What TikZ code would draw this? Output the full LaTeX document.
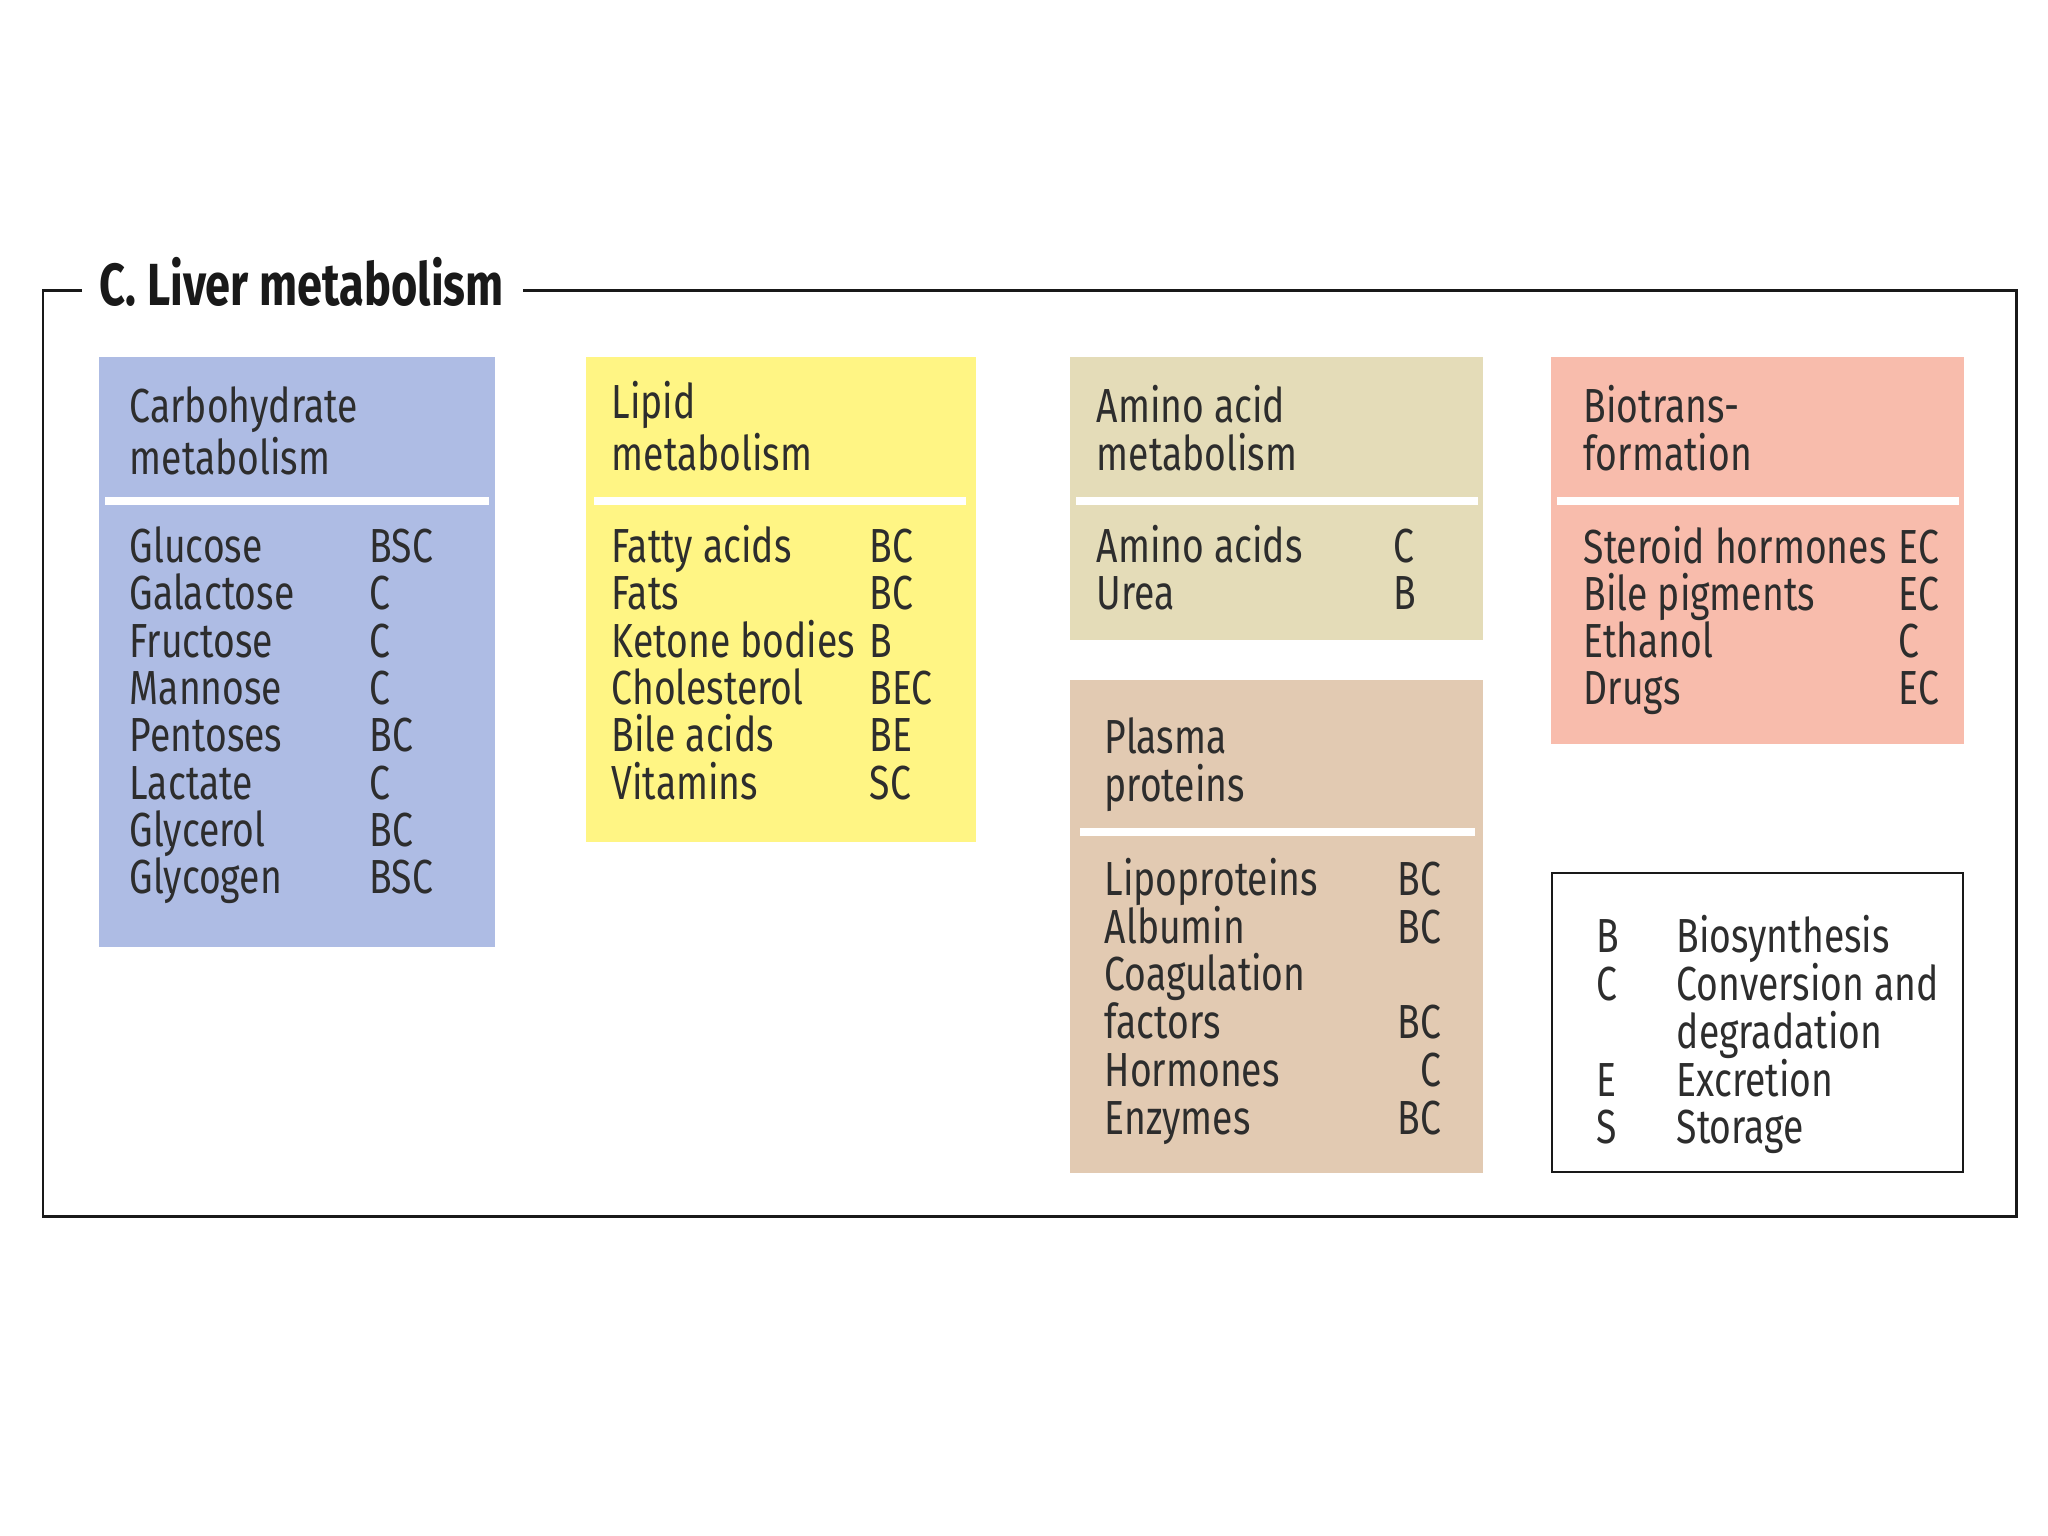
\documentclass[tikz,border=0pt]{standalone}
\usepackage{fontspec}
\setmainfont[FakeStretch=0.78]{Fira Sans}
\newfontfamily\titlefont[FakeStretch=0.76]{Fira Sans}
\definecolor{carbblue}{RGB}{174,188,228}
\definecolor{lipidyellow}{RGB}{255,245,132}
\definecolor{aminosand}{RGB}{228,220,184}
\definecolor{plasmatan}{RGB}{226,202,178}
\definecolor{biopink}{RGB}{248,188,172}
\definecolor{textgray}{RGB}{45,45,45}
\tikzset{
  txt/.style={anchor=base west, inner sep=0pt, text=textgray, font=\fontsize{13.6}{13.4}\selectfont},
  head/.style={txt, align=left},
  sep/.style={white, line width=2pt},
}
\begin{document}
\begin{tikzpicture}[x=0.01cm, y=-0.01cm]
\useasboundingbox (0,0) rectangle (2048,1536);
% frame and title
\node[anchor=base west, inner sep=0pt, text=black!90, font={\titlefont\fontsize{16.9}{18}\selectfont\bfseries}] (title) at (99,305) {C. Liver metabolism};
\draw[line width=0.85pt, black!90] (82,290) -- (43,290) -- (43,1216) -- (2016,1216) -- (2016,290) -- (523,290);
% carbohydrate metabolism
\fill[carbblue] (99,357) rectangle (495,947);
\draw[sep] (105,501) -- (489,501);
\node[head] (carbhead) at (129,474) {Carbohydrate\\metabolism};
\node[txt] (glucose) at (129,562) {Glucose};
\node[txt] (galactose) at (129,609) {Galactose};
\node[txt] (fructose) at (129,657) {Fructose};
\node[txt] (mannose) at (129,704) {Mannose};
\node[txt] (pentoses) at (129,751) {Pentoses};
\node[txt] (lactate) at (129,799) {Lactate};
\node[txt] (glycerol) at (129,846) {Glycerol};
\node[txt] (glycogen) at (129,893) {Glycogen};
\node[txt] (glucose code) at (369,562) {BSC};
\node[txt] (galactose code) at (369,609) {C};
\node[txt] (fructose code) at (369,657) {C};
\node[txt] (mannose code) at (369,704) {C};
\node[txt] (pentoses code) at (369,751) {BC};
\node[txt] (lactate code) at (369,799) {C};
\node[txt] (glycerol code) at (369,846) {BC};
\node[txt] (glycogen code) at (369,893) {BSC};
% lipid metabolism
\fill[lipidyellow] (586,357) rectangle (976,842);
\draw[sep] (594,501) -- (966,501);
\node[head] (lipidhead) at (611,470) {Lipid\\metabolism};
\node[txt] (fattyacids) at (611,562) {Fatty acids};
\node[txt] (fats) at (611,609) {Fats};
\node[txt] (ketones) at (611,657) {Ketone bodies};
\node[txt] (cholesterol) at (611,704) {Cholesterol};
\node[txt] (bileacids) at (611,751) {Bile acids};
\node[txt] (vitamins) at (611,799) {Vitamins};
\node[txt] (fattyacids code) at (869,562) {BC};
\node[txt] (fats code) at (869,609) {BC};
\node[txt] (ketones code) at (869,657) {B};
\node[txt] (cholesterol code) at (869,704) {BEC};
\node[txt] (bileacids code) at (869,751) {BE};
\node[txt] (vitamins code) at (869,799) {SC};
% amino acid metabolism
\fill[aminosand] (1070,357) rectangle (1483,640);
\draw[sep] (1076,501) -- (1478,501);
\node[head] (aminohead) at (1096,470) {Amino acid\\metabolism};
\node[txt] (aminoacids) at (1096,562) {Amino acids};
\node[txt] (urea) at (1096,609) {Urea};
\node[txt] (aminoacids code) at (1393,562) {C};
\node[txt] (urea code) at (1393,609) {B};
% plasma proteins
\fill[plasmatan] (1070,680) rectangle (1483,1173);
\draw[sep] (1080,832) -- (1475,832);
\node[head] (plasmahead) at (1104,801) {Plasma\\proteins};
\node[txt] (lipoproteins) at (1104,895) {Lipoproteins};
\node[txt] (albumin) at (1104,943) {Albumin};
\node[head] (coagulation) at (1104,1038) {Coagulation\\factors};
\node[txt] (hormones) at (1104,1086) {Hormones};
\node[txt] (enzymes) at (1104,1134) {Enzymes};
\node[txt, anchor=base east] (lipoproteins code) at (1442,895) {BC};
\node[txt, anchor=base east] (albumin code) at (1442,943) {BC};
\node[txt, anchor=base east] (coagulation code) at (1442,1038) {BC};
\node[txt, anchor=base east] (hormones code) at (1442,1086) {C};
\node[txt, anchor=base east] (enzymes code) at (1442,1134) {BC};
% biotransformation
\fill[biopink] (1551,357) rectangle (1964,744);
\draw[sep] (1557,501) -- (1959,501);
\node[head] (biohead) at (1583,470) {Biotrans-\\formation};
\node[txt] (steroids) at (1583,563) {Steroid hormones};
\node[txt] (bilepigments) at (1583,610) {Bile pigments};
\node[txt] (ethanol) at (1583,657) {Ethanol};
\node[txt] (drugs) at (1583,704) {Drugs};
\node[txt] (steroids code) at (1898,563) {EC};
\node[txt] (bilepigments code) at (1898,610) {EC};
\node[txt] (ethanol code) at (1898,657) {C};
\node[txt] (drugs code) at (1898,704) {EC};
% legend
\draw[line width=0.75pt, black!90] (1552,873) rectangle (1963,1172);
\node[txt] (keyB) at (1596,952) {B};
\node[txt] (keyC) at (1596,1000) {C};
\node[txt] (keyE) at (1596,1096) {E};
\node[txt] (keyS) at (1596,1143) {S};
\node[txt] (keyB text) at (1676,952) {Biosynthesis};
\node[head] (keyC text) at (1676,1048) {Conversion and\\degradation};
\node[txt] (keyE text) at (1676,1096) {Excretion};
\node[txt] (keyS text) at (1676,1143) {Storage};
\end{tikzpicture}
\end{document}
